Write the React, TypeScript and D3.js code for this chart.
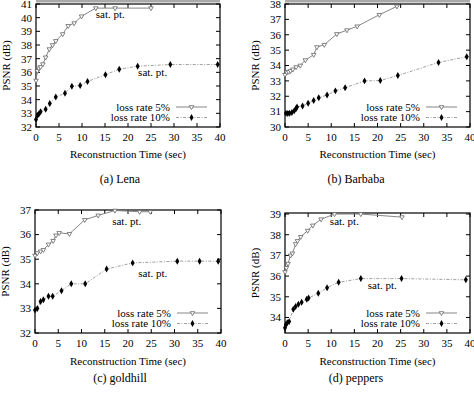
import React, { useEffect, useRef } from 'react';
import * as d3 from 'd3';

// Lena
const lenaT5 = [0, 0.3, 0.6, 1.0, 1.5, 2.1, 2.9, 3.6, 4.3, 5.8, 7.0, 8.3, 9.9, 13, 17.2, 25];
const lenaV5 = [35.4, 36.1, 36.3, 36.4, 36.6, 37.1, 37.7, 38.0, 38.3, 38.8, 39.4, 39.6, 40.1, 40.7, 40.7, 40.7];
const lenaT10 = [0, 0.35, 0.65, 1.0, 2.1, 3.0, 4.3, 6.3, 7.8, 9.6, 11.2, 15.1, 18.1, 22.1, 29.2, 39.5];
const lenaV10 = [32.55, 32.85, 32.97, 33.12, 33.3, 33.72, 34.2, 34.47, 34.98, 35.03, 35.33, 35.83, 36.23, 36.45, 36.57, 36.57];

// Barbara
const barbT5 = [0, 0.4, 0.8, 1.2, 1.7, 2.4, 3.3, 4.4, 6.2, 6.9, 8.5, 11.2, 13.4, 15.6, 20.4, 24.2];
const barbV5 = [33.4, 33.55, 33.6, 33.65, 33.75, 33.9, 34.0, 34.35, 34.7, 35.2, 35.35, 36.05, 36.3, 36.55, 37.3, 37.85];
const barbT10 = [0.2, 0.6, 1.0, 1.5, 2.0, 2.4, 2.6, 3.8, 5.0, 6.2, 7.3, 9.1, 10.9, 13.0, 17.2, 20.6, 24.4, 33.2, 39.3];
const barbV10 = [30.9, 30.88, 30.9, 30.95, 31.05, 31.2, 31.3, 31.37, 31.55, 31.72, 31.9, 32.08, 32.35, 32.55, 33.0, 33.02, 33.35, 34.2, 34.57];

// Goldhill
const goldT5 = [0, 0.5, 1.2, 1.8, 2.9, 3.9, 4.5, 5.2, 7.4, 10.7, 13.6, 17.2, 22.5, 24.8];
const goldV5 = [35.15, 35.25, 35.32, 35.38, 35.6, 35.75, 35.97, 36.07, 36.03, 36.6, 36.78, 36.98, 36.93, 36.93];
const goldT10 = [0, 0.5, 1.2, 1.8, 2.9, 3.8, 5.7, 7.8, 10.8, 15.4, 21.0, 30.6, 35.4, 39.4];
const goldV10 = [32.93, 33.0, 33.28, 33.35, 33.49, 33.49, 33.72, 34.0, 34.0, 34.6, 34.85, 34.92, 34.92, 34.92];

// Peppers
const pepT5 = [0, 0.3, 0.65, 1.2, 1.6, 2.3, 2.7, 3.4, 4.9, 6.0, 7.8, 10.7, 16.4, 25.3];
const pepV5 = [36.2, 36.4, 36.6, 37.0, 37.1, 37.55, 37.7, 37.9, 38.2, 38.45, 38.75, 39.0, 39.0, 38.85];
const pepT10 = [0, 0.2, 0.5, 0.9, 1.8, 2.3, 2.9, 3.6, 4.7, 5.1, 7.2, 9.1, 11.6, 16.4, 25.2, 39.1];
const pepV10 = [33.5, 33.65, 33.75, 33.8, 34.4, 34.53, 34.64, 34.74, 34.88, 34.94, 35.17, 35.44, 35.7, 35.88, 35.88, 35.82];

const xTicks = [0, 5, 10, 15, 20, 25, 30, 35, 40];
const lenaYTicks = [32, 33, 34, 35, 36, 37, 38, 39, 40, 41];
const barbYTicks = [30, 31, 32, 33, 34, 35, 36, 37, 38];
const goldYTicks = [32, 33, 34, 35, 36, 37];
const pepYTicks = [34, 35, 36, 37, 38, 39];

const legendLabels = ['loss rate 5%', 'loss rate 10%'];

const FONT = 'Liberation Serif, Times New Roman, Times, DejaVu Serif, serif';

const zip = (t, v) => t.map((d, i) => [d, v[i]]);

const panels = [
  {
    caption: '(a) Lena', s5: zip(lenaT5, lenaV5), s10: zip(lenaT10, lenaV10),
    yDomain: [32, 41], yTicks: lenaYTicks, x: [36, 220], y: [127, 4], col: 120, gray: true,
    offs: { tick: 141, title: 158, cap: 183 },
    sat: [[13.0, 40.23], [22.2, 36.0]],
  },
  {
    caption: '(b) Barbaba', s5: zip(barbT5, barbV5), s10: zip(barbT10, barbV10),
    yDomain: [30, 38], yTicks: barbYTicks, x: [285, 470], y: [127, 4], col: 356, gray: true,
    offs: { tick: 141, title: 158, cap: 183 },
    sat: [],
  },
  {
    caption: '(c) goldhill', s5: zip(goldT5, goldV5), s10: zip(goldT10, goldV10),
    yDomain: [32, 37], yTicks: goldYTicks, x: [35, 221], y: [333, 210], col: 120, gray: false,
    offs: { tick: 347, title: 365, cap: 382 },
    sat: [[16.6, 36.55], [22.2, 34.44]],
  },
  {
    caption: '(d) peppers', s5: zip(pepT5, pepV5), s10: zip(pepT10, pepV10),
    yDomain: [33.25, 39.05], yTicks: pepYTicks, x: [285, 470], y: [333, 213], col: 356, gray: false,
    offs: { tick: 347, title: 365, cap: 382 },
    sat: [[9.7, 38.66], [17.9, 35.57]],
  },
];

const App = () => {
  const ref = useRef(null);

  useEffect(() => {
    const svg = d3.select(ref.current);
    svg.selectAll('*').remove();

    const tri = d3.symbol().type(d3.symbolTriangle).size(9);
    const dia = d3.symbol().type(d3.symbolDiamond).size(14);

    panels.forEach(p => {
      const x = d3.scaleLinear().domain([0, 40]).range(p.x);
      const y = d3.scaleLinear().domain(p.yDomain).range(p.y);
      const g = svg.append('g');
      const [x0, x1] = p.x;
      const [yb, yt] = p.y;

      if (p.gray) {
        g.append('rect').attr('x', x0).attr('y', 0).attr('width', x1 - x0).attr('height', 2.5)
          .attr('fill', '#a9a9a9');
      }

      // frame
      g.append('rect').attr('x', x0).attr('y', yt).attr('width', x1 - x0).attr('height', yb - yt)
        .attr('fill', 'none').attr('stroke', '#000').attr('stroke-width', 1.2);

      // x ticks (mirrored)
      xTicks.forEach(t => {
        g.append('line').attr('x1', x(t)).attr('x2', x(t)).attr('y1', yb).attr('y2', yb - 4)
          .attr('stroke', '#000');
        g.append('line').attr('x1', x(t)).attr('x2', x(t)).attr('y1', yt).attr('y2', yt + 4)
          .attr('stroke', '#000');
        g.append('text').attr('x', x(t)).attr('y', p.offs.tick).attr('text-anchor', 'middle')
          .text(t);
      });

      // y ticks (mirrored)
      p.yTicks.forEach(v => {
        g.append('line').attr('x1', x0).attr('x2', x0 + 4).attr('y1', y(v)).attr('y2', y(v))
          .attr('stroke', '#000');
        g.append('line').attr('x1', x1).attr('x2', x1 - 4).attr('y1', y(v)).attr('y2', y(v))
          .attr('stroke', '#000');
        g.append('text').attr('x', x0 - 4).attr('y', y(v)).attr('dy', '0.35em')
          .attr('text-anchor', 'end').text(v);
      });

      // axis titles
      g.append('text').attr('x', (x0 + x1) / 2).attr('y', p.offs.title).attr('text-anchor', 'middle')
        .text('Reconstruction Time (sec)');
      g.append('text')
        .attr('transform', `translate(${x0 - 26},${(yb + yt) / 2}) rotate(-90)`)
        .attr('text-anchor', 'middle')
        .text('PSNR (dB)');
      g.append('text').attr('x', p.col).attr('y', p.offs.cap).attr('text-anchor', 'middle')
        .attr('font-size', 12).text(p.caption);

      const line = d3.line().x(d => x(d[0])).y(d => y(d[1]));

      // 10% series
      g.append('path').datum(p.s10).attr('d', line).attr('fill', 'none')
        .attr('stroke', '#a0a0a0').attr('stroke-width', 1).attr('stroke-dasharray', '3,1.5,1,1.5');
      g.selectAll(null).data(p.s10).enter().append('path')
        .attr('d', dia).attr('transform', d => `translate(${x(d[0])},${y(d[1])})`)
        .attr('fill', '#000');

      // 5% series
      g.append('path').datum(p.s5).attr('d', line).attr('fill', 'none')
        .attr('stroke', '#858585').attr('stroke-width', 1);
      g.selectAll(null).data(p.s5).enter().append('path')
        .attr('d', tri).attr('transform', d => `translate(${x(d[0])},${y(d[1])}) rotate(180)`)
        .attr('fill', '#fff').attr('stroke', '#666').attr('stroke-width', 0.8);

      // sat. pt. labels
      p.sat.forEach(s => {
        g.append('text').attr('x', x(s[0])).attr('y', y(s[1])).attr('dy', '0.35em')
          .text('sat. pt.');
      });

      // legend
      legendLabels.forEach((lab, i) => {
        const ly = yb - 20 + i * 10.5;
        g.append('text').attr('x', x1 - 50).attr('y', ly).attr('dy', '0.35em')
          .attr('text-anchor', 'end').text(lab);
        g.append('line').attr('x1', x1 - 44).attr('x2', x1 - 13).attr('y1', ly).attr('y2', ly)
          .attr('stroke', i === 0 ? '#858585' : '#a0a0a0')
          .attr('stroke-dasharray', i === 0 ? null : '3,1.5,1,1.5');
        g.append('path').attr('d', i === 0 ? tri : dia)
          .attr('transform', `translate(${x1 - 28.5},${ly})${i === 0 ? ' rotate(180)' : ''}`)
          .attr('fill', i === 0 ? '#fff' : '#000').attr('stroke', i === 0 ? '#666' : null)
          .attr('stroke-width', 0.8);
      });
    });
  }, []);

  return (
    <svg ref={ref} width={474} height={393}
      style={{ position: 'absolute', left: 0, top: 0, background: '#fff', fontFamily: FONT, fontSize: 11 }} />
  );
};

export default App;
